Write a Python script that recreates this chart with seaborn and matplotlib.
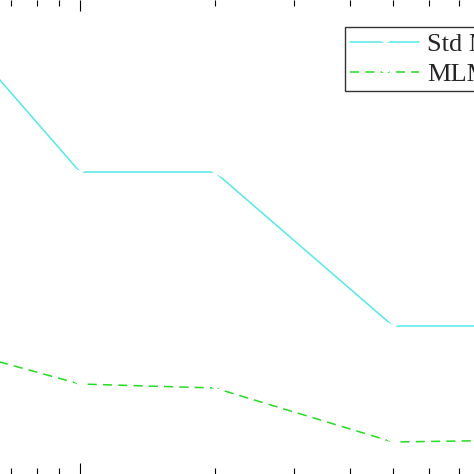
import matplotlib
matplotlib.use("Agg")
import matplotlib.pyplot as plt
import seaborn as sns
import pandas as pd
from matplotlib.ticker import LogLocator, NullFormatter

x_vals = [5, 10, 20, 50, 100]
std_vals = [457, 302, 302, 148, 148]
mlm_vals = [127, 90, 86, 32, 34]
labels = ["Std MLMC", "MLMC"]

sns.set_style("white")
plt.rcParams['font.family'] = ['Liberation Serif', 'DejaVu Serif']

fig = plt.figure(figsize=(4.74, 4.74), dpi=100)
ax = fig.add_axes([0, 0, 1, 1])
df = pd.DataFrame({"x": x_vals * 2, "y": std_vals + mlm_vals,
                   "s": [labels[0]] * 5 + [labels[1]] * 5})
ast = (6, 2, 0)
sns.lineplot(data=df, x="x", y="y", hue="s", style="s",
             palette=["#55e8e8", "#22dd22"], dashes=[(None, None), (6, 4)],
             markers=[ast, ast], markersize=10, linewidth=1.1,
             markeredgewidth=1.0, ax=ax)
ax.set_xscale("log")
ax.set_xlim(6.63, 75.8)
ax.set_ylim(0, 474)
for s in ax.spines.values():
    s.set_visible(False)
ax.xaxis.set_major_locator(LogLocator(base=10))
ax.xaxis.set_minor_locator(LogLocator(base=10, subs=range(2, 10)))
ax.xaxis.set_major_formatter(NullFormatter())
ax.xaxis.set_minor_formatter(NullFormatter())
ax.tick_params(axis="x", which="both", direction="in", top=True, bottom=True, color="black", width=0.8)
ax.tick_params(axis="x", which="major", length=8)
ax.tick_params(axis="x", which="minor", length=4)
ax.set_yticks([])
ax.set_xlabel("")
ax.set_ylabel("")
leg = ax.legend(loc="upper left", bbox_to_anchor=(345 / 474, 1 - 27 / 474),
                fontsize=19, frameon=True, fancybox=False, edgecolor="black",
                handlelength=2.6, handletextpad=0.3, borderpad=0.2,
                labelspacing=0.25, borderaxespad=0)
leg.get_frame().set_linewidth(1.0)
fig.savefig("out.png", dpi=100)
